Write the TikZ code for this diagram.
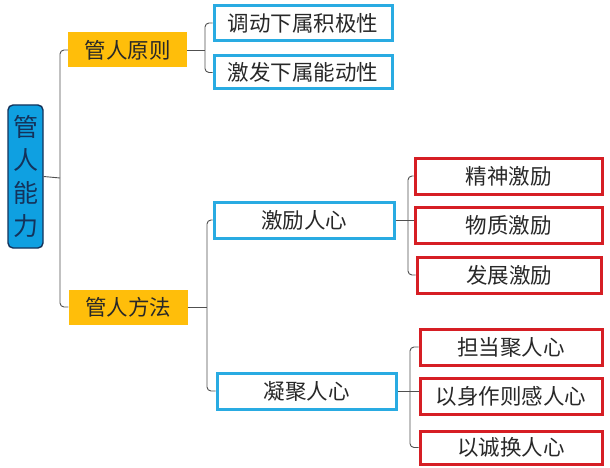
\documentclass[tikz,border=0pt]{standalone}
\usepackage{fontspec}
\newfontfamily\cjk{Noto Sans CJK SC}
\definecolor{gold}{RGB}{255,190,10}
\definecolor{cyanb}{RGB}{41,171,226}
\definecolor{redb}{RGB}{214,30,36}
\definecolor{txt}{RGB}{40,40,40}
\definecolor{conn}{RGB}{80,80,80}
\definecolor{rootc}{RGB}{40,195,245}
\definecolor{rootd}{RGB}{15,160,225}
\definecolor{rootb}{RGB}{20,50,90}
\tikzset{
  base/.style={inner sep=0pt, font=\cjk\fontsize{21.5}{25}\selectfont, text=txt},
  goldbox/.style={base, fill=gold, minimum width=119pt, minimum height=35pt},
  cbox/.style={base, draw=cyanb, line width=3pt, fill=white},
  rbox/.style={base, draw=redb, line width=3pt, fill=white},
  link/.style={draw=conn, line width=0.9pt, rounded corners=4pt},
}
\begin{document}
\begin{tikzpicture}[x=1pt,y=-1pt]
\useasboundingbox (0,0) rectangle (610,468);
% root
\node[base, draw=rootb, line width=1.4pt, rounded corners=5pt,
      left color=rootd, middle color=rootc, right color=rootd,
      minimum width=35pt, minimum height=143pt, align=center,
      font=\cjk\fontsize{25}{33}\selectfont, text=rootb]
  (root) at (25.5,176.5) {管\\人\\能\\力};
% level 1
\node[goldbox] (p1) at (127.5,50) {管人原则};
\node[goldbox] (p2) at (128,307) {管人方法};
% level 2
\node[cbox, minimum width=178pt, minimum height=35pt] (a1) at (303,23) {调动下属积极性};
\node[cbox, minimum width=178pt, minimum height=33pt] (a2) at (303,72.5) {激发下属能动性};
\node[cbox, minimum width=180pt, minimum height=36pt] (b1) at (304,220) {激励人心};
\node[cbox, minimum width=179pt, minimum height=36pt] (b2) at (306.5,391) {凝聚人心};
% level 3
\node[rbox, minimum width=187pt, minimum height=36pt] (c1) at (508.5,176) {精神激励};
\node[rbox, minimum width=187pt, minimum height=36pt] (c2) at (508.5,225) {物质激励};
\node[rbox, minimum width=184pt, minimum height=36pt] (c3) at (509,275) {发展激励};
\node[rbox, minimum width=182pt, minimum height=36pt] (d1) at (511,347) {担当聚人心};
\node[rbox, minimum width=182pt, minimum height=36pt] (d2) at (511,396) {以身作则感人心};
\node[rbox, minimum width=182pt, minimum height=33pt] (d3) at (511,447.5) {以诚换人心};
% junctions
\coordinate (j0) at (60,178);
\coordinate (j1) at (205,50);
\coordinate (j2) at (207,307);
\coordinate (j3) at (408,220);
\coordinate (j4) at (410,391);
% connectors
\draw[link] (root.east) -- (j0);
\draw[link] (p1.west) -| (j0) |- (p2.west);
\draw[link] (p1.east) -- (j1);
\draw[link] (a1.west) -| (j1) |- (a2.west);
\draw[link] (p2.east) -- (j2);
\draw[link] (b1.west) -| (j2) |- (b2.west);
\draw[link] (b1.east) -- (c2.west |- b1.east);
\draw[link] (c1.west) -| (j3) |- (c3.west);
\draw[link] (b2.east) -- (d2.west |- b2.east);
\draw[link] (d1.west) -| (j4) |- (d3.west);
\end{tikzpicture}
\end{document}
